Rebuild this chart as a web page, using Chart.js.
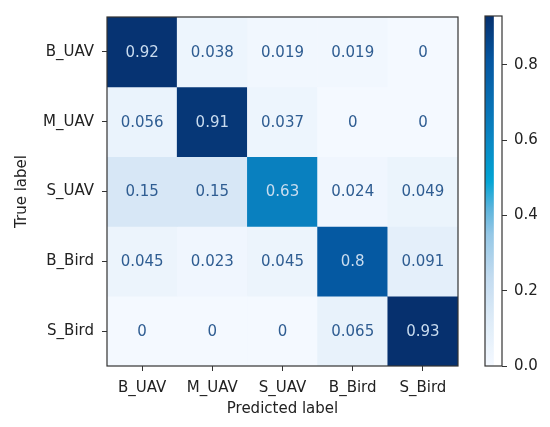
<!DOCTYPE html>
<html>
<head>
<meta charset="utf-8">
<script src="https://cdn.jsdelivr.net/npm/chart.js@4"></script>
<style>
  html, body { margin: 0; padding: 0; background: #fff; width: 550px; height: 427px; overflow: hidden; }
  #main { position: absolute; left: 0; top: 0; }
  #cbar { position: absolute; left: 470px; top: 0; }
</style>
</head>
<body>
<canvas id="main" width="470" height="427"></canvas>
<canvas id="cbar" width="80" height="427"></canvas>
<script>
// ---- data ----
const trueLabels = ['B_UAV', 'M_UAV', 'S_UAV', 'B_Bird', 'S_Bird'];
const predLabels = ['B_UAV', 'M_UAV', 'S_UAV', 'B_Bird', 'S_Bird'];
const rowBUAV  = [0.92, 0.038, 0.019, 0.019, 0];
const rowMUAV  = [0.056, 0.91, 0.037, 0, 0];
const rowSUAV  = [0.15, 0.15, 0.63, 0.024, 0.049];
const rowBBird = [0.045, 0.023, 0.045, 0.8, 0.091];
const rowSBird = [0, 0, 0, 0.065, 0.93];
const rows = [rowBUAV, rowMUAV, rowSUAV, rowBBird, rowSBird];
const cbarTicks = [0, 0.2, 0.4, 0.6, 0.8];
const xTitle = 'Predicted label';
const yTitle = 'True label';

// ---- colour map (Blues-like, as it looks in the reference) ----
const stops = [
  [0.00, [244, 249, 255]],
  [0.125, [223, 236, 248]],
  [0.25, [196, 220, 240]],
  [0.375, [150, 200, 230]],
  [0.45, [92, 180, 220]],
  [0.53, [0, 164, 212]],
  [0.64, [10, 136, 196]],
  [0.75, [8, 112, 180]],
  [0.875, [5, 86, 160]],
  [1.00, [6, 48, 110]]
];
const allVals = rows.flat();
const vmin = Math.min(...allVals);
const vmax = Math.max(...allVals);
function cmap(t) {
  t = Math.max(0, Math.min(1, t));
  for (let i = 1; i < stops.length; i++) {
    if (t <= stops[i][0]) {
      const [t0, c0] = stops[i - 1], [t1, c1] = stops[i];
      const f = (t - t0) / (t1 - t0);
      const c = c0.map((v, k) => Math.round(v + (c1[k] - v) * f));
      return `rgb(${c[0]},${c[1]},${c[2]})`;
    }
  }
  const c = stops[stops.length - 1][1];
  return `rgb(${c[0]},${c[1]},${c[2]})`;
}
const norm = v => (v - vmin) / (vmax - vmin);
const fmt = v => String(Number(v.toPrecision(2)));

const FONT = { family: 'DejaVu Sans', size: 15 };
const TEXT = '#222222';
const EDGE = '#333333';

const framePlugin = {
  id: 'frame',
  afterDraw(chart) {
    const { ctx, chartArea: a } = chart;
    ctx.save();
    ctx.strokeStyle = EDGE;
    ctx.lineWidth = 1.2;
    ctx.strokeRect(a.left, a.top, a.right - a.left, a.bottom - a.top);
    ctx.restore();
  }
};

const cellText = {
  id: 'cellText',
  afterDatasetsDraw(chart) {
    const { ctx } = chart;
    ctx.save();
    ctx.font = '15px "DejaVu Sans"';
    ctx.textAlign = 'center';
    ctx.textBaseline = 'middle';
    chart.data.datasets.forEach((ds, di) => {
      const meta = chart.getDatasetMeta(di);
      meta.data.forEach((el, j) => {
        const v = ds.values[j];
        const cx = el.x;
        const cy = (el.y + el.base) / 2;
        ctx.fillStyle = norm(v) > 0.5 ? '#c9dcef' : '#2f5d92';
        ctx.fillText(fmt(v), cx, cy + 1);
      });
    });
    ctx.restore();
  }
};

const datasets = rows.map((r, i) => ({
  label: trueLabels[i],
  values: r,
  data: r.map(() => [i - 0.5, i + 0.5]),
  backgroundColor: r.map(v => cmap(norm(v))),
  borderWidth: 0,
  grouped: false,
  barPercentage: 1,
  categoryPercentage: 1
}));

new Chart(document.getElementById('main'), {
  type: 'bar',
  data: { labels: predLabels, datasets },
  options: {
    responsive: false,
    animation: false,
    layout: { padding: { left: 0, right: 12, top: 13, bottom: 0 } },
    plugins: { legend: { display: false }, tooltip: { enabled: false } },
    scales: {
      x: {
        type: 'category',
        offset: true,
        grid: { offset: false, drawOnChartArea: false, drawTicks: true, tickLength: 5, color: EDGE, lineWidth: 1 },
        border: { display: false },
        ticks: { font: FONT, color: TEXT, padding: 8, maxRotation: 0, autoSkip: false },
        title: { display: true, text: xTitle, font: FONT, color: TEXT, padding: { top: 0, bottom: 9 } },
        afterFit(s) { s.height = 61; }
      },
      y: {
        type: 'linear',
        reverse: true,
        min: -0.5,
        max: 4.5,
        afterBuildTicks(s) { s.ticks = trueLabels.map((_, i) => ({ value: i })); },
        grid: { drawOnChartArea: false, drawTicks: true, tickLength: 5, color: EDGE, lineWidth: 1 },
        border: { display: false },
        ticks: { font: FONT, color: TEXT, padding: 8, callback: v => trueLabels[v] },
        title: { display: true, text: yTitle, font: FONT, color: TEXT, padding: { top: 13, bottom: 0 } },
        afterFit(s) { s.width = 107; }
      }
    }
  },
  plugins: [cellText, framePlugin]
});

// ---- colour bar ----
new Chart(document.getElementById('cbar'), {
  type: 'bar',
  data: {
    labels: [''],
    datasets: [{
      data: [vmax],
      borderWidth: 0,
      barPercentage: 1,
      categoryPercentage: 1,
      backgroundColor(ctx) {
        const chart = ctx.chart;
        const a = chart.chartArea;
        if (!a) return cmap(1);
        const y = chart.scales.y;
        const g = chart.ctx.createLinearGradient(0, y.getPixelForValue(vmin), 0, y.getPixelForValue(vmax));
        for (let k = 0; k <= 40; k++) g.addColorStop(k / 40, cmap(k / 40));
        return g;
      }
    }]
  },
  options: {
    responsive: false,
    animation: false,
    layout: { padding: { left: 15, right: 0, top: 13, bottom: 61 } },
    plugins: { legend: { display: false }, tooltip: { enabled: false } },
    scales: {
      x: { display: false, offset: false },
      y: {
        position: 'right',
        min: vmin,
        max: vmax,
        afterBuildTicks(s) { s.ticks = cbarTicks.map(v => ({ value: v })); },
        grid: { drawOnChartArea: false, drawTicks: true, tickLength: 5, color: EDGE, lineWidth: 1 },
        border: { display: false },
        ticks: { font: FONT, color: TEXT, padding: 7, callback: v => v.toFixed(1) },
        afterFit(s) { s.width = 48; }
      }
    }
  },
  plugins: [framePlugin]
});
</script>
</body>
</html>
